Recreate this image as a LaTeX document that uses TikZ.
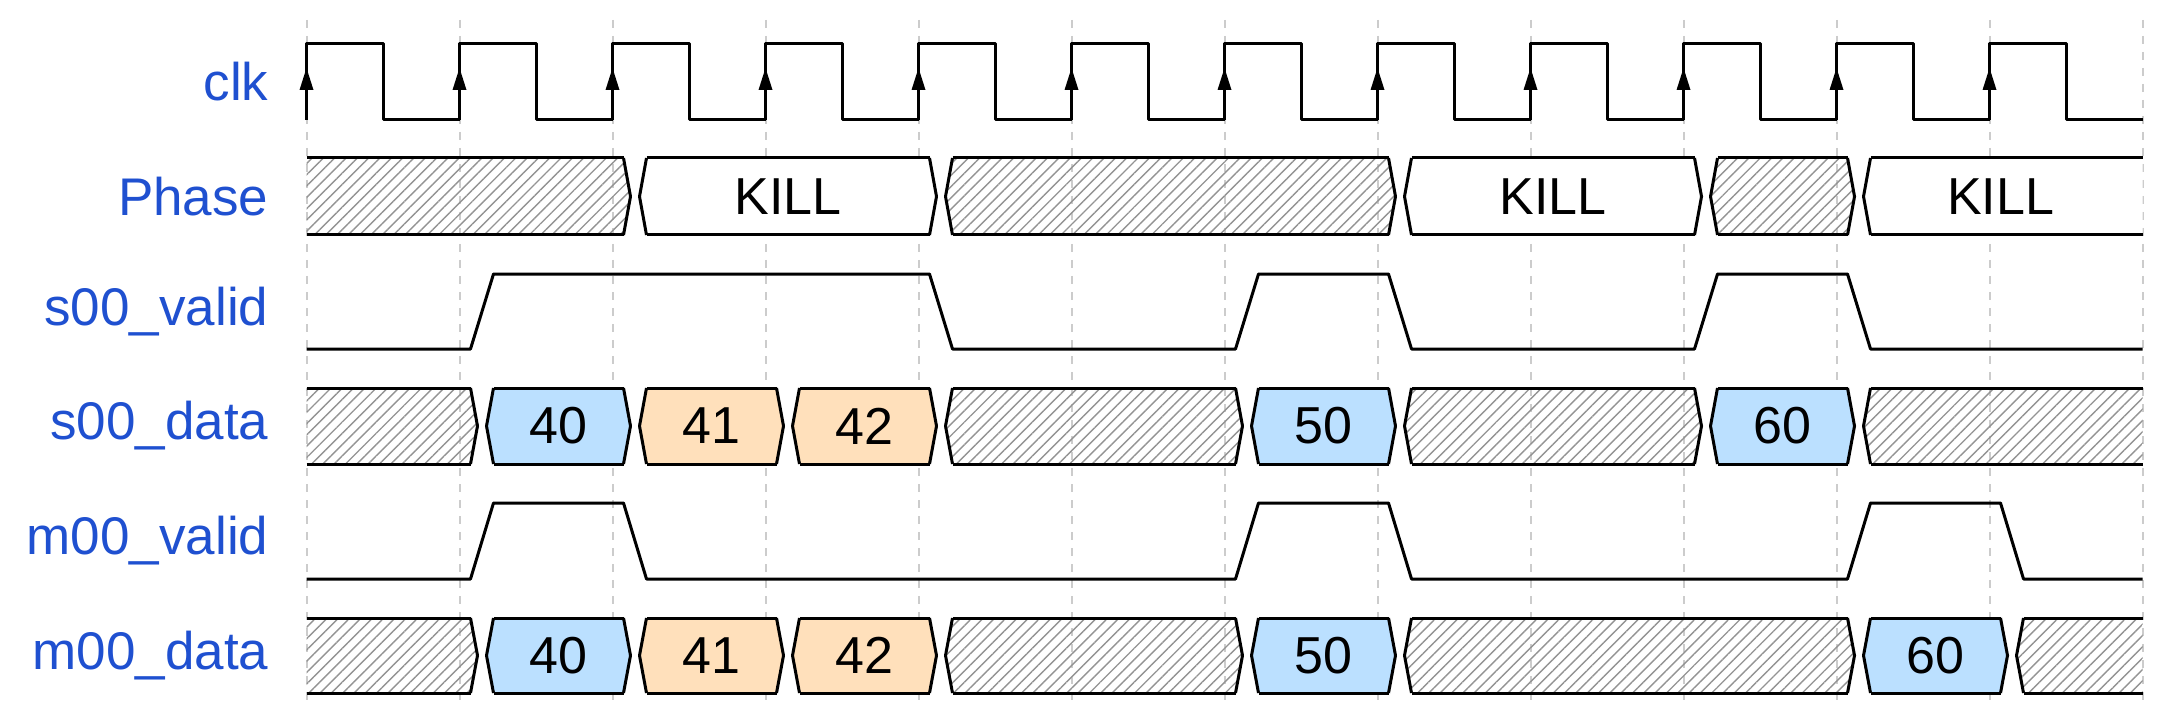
\documentclass[tikz,border=0pt]{standalone}
\usepackage{fontspec}
\setmainfont{Liberation Sans}
\usetikzlibrary{patterns.meta}
\definecolor{lblue}{HTML}{1F50D0}
\definecolor{dblue}{HTML}{BBE0FF}
\definecolor{dorange}{HTML}{FFE0BB}
\tikzset{
  sig/.style={line width=3pt, line join=round},
  grid/.style={dashed, dash pattern=on 8pt off 8pt, gray!40, line width=2pt},
  lbl/.style={anchor=east, text=lblue, font=\fontsize{53}{60}\selectfont, inner sep=0},
  dtxt/.style={font=\fontsize{52}{60}\selectfont, inner sep=0},
  hatch/.style={pattern={Lines[angle=45,distance=8pt,line width=1.4pt]}, pattern color=gray!85},
  blue/.style={fill=dblue},
  orng/.style={fill=dorange},
  kill/.style={fill=white}
}
\def\e#1{(306.5+#1*153)}
\newcommand\blk[7]{%
  \pgfmathsetmacro\xa{#1==0 ? 306.5 : 306.5+#1*153+22.5}%
  \pgfmathsetmacro\ta{#1==0 ? 0 : 4.5}%
  \pgfmathsetmacro\ca{#1==0 ? 0 : 11.5}%
  \pgfmathsetmacro\xb{#2==12 ? 2142.5 : 306.5+#2*153+22.5}%
  \pgfmathsetmacro\tb{#2==12 ? 0 : 4.5}%
  \pgfmathsetmacro\cb{#2==12 ? 0 : 11.5}%
  \pgfmathsetmacro\ym{(#3+#4)/2}%
  \path[#5] (\xa+\ta,\ym) -- (\xa+\ca,#3) -- (\xb-\cb,#3) -- (\xb-\tb,\ym) -- (\xb-\cb,#4) -- (\xa+\ca,#4) -- cycle;
  \draw[sig] (\xa+\ca,#3) -- (\xb-\cb,#3);
  \draw[sig] (\xa+\ca,#4) -- (\xb-\cb,#4);
  \ifnum#1>0 \draw[sig] (\xa+\ca,#3) -- (\xa+\ta,\ym) -- (\xa+\ca,#4);\fi
  \ifnum#2<12 \draw[sig] (\xb-\cb,#3) -- (\xb-\tb,\ym) -- (\xb-\cb,#4);\fi
  \node[dtxt] (#7) at ({(\xa+\xb)/2},\ym) {#6};
}
\begin{document}
\begin{tikzpicture}[x=1pt,y=-1pt]
\useasboundingbox (0,0) rectangle (2159,719);
% grid
\foreach \i in {0,...,12} \draw[grid] ({306.5+\i*153},20) -- ({306.5+\i*153},702);
% labels
\node[lbl] (lclk) at (268.6,82) {clk};
\node[lbl] (lph) at (268.6,196.5) {Phase};
\node[lbl] (lsv) at (268.6,311.5) {s00\_valid};
\node[lbl] (lsd) at (268.6,426) {s00\_data};
\node[lbl] (lmv) at (268.6,541) {m00\_valid};
\node[lbl] (lmd) at (268.6,655.5) {m00\_data};
% clock
\foreach \i in {0,...,11} {
  \draw[sig] ({306.5+\i*153},120) -- ({306.5+\i*153},43.6) -- ({306.5+\i*153+76.5},43.6) -- ({306.5+\i*153+76.5},120) -- ({306.5+\i*153+153},120);
  \fill ({306.5+\i*153},68) -- ({306.5+\i*153+7},90) -- ({306.5+\i*153-7},90) -- cycle;
}
% Phase
\blk{0}{2}{158}{235}{hatch}{}{p1}
\blk{2}{4}{158}{235}{kill}{KILL}{p2}
\blk{4}{7}{158}{235}{hatch}{}{p3}
\blk{7}{9}{158}{235}{kill}{KILL}{p4}
\blk{9}{10}{158}{235}{hatch}{}{p5}
\blk{10}{12}{158}{235}{kill}{KILL}{p6}
% s00_valid
\draw[sig] (306.5,349) -- ({\e{1}+11},349) -- ({\e{1}+34},274) -- ({\e{4}+11},274) -- ({\e{4}+34},349)
  -- ({\e{6}+11},349) -- ({\e{6}+34},274) -- ({\e{7}+11},274) -- ({\e{7}+34},349)
  -- ({\e{9}+11},349) -- ({\e{9}+34},274) -- ({\e{10}+11},274) -- ({\e{10}+34},349) -- (2142.5,349);
% s00_data
\blk{0}{1}{388}{464}{hatch}{}{s1}
\blk{1}{2}{388}{464}{blue}{40}{s2}
\blk{2}{3}{388}{464}{orng}{41}{s3}
\blk{3}{4}{388}{464}{orng}{42}{s4}
\blk{4}{6}{388}{464}{hatch}{}{s5}
\blk{6}{7}{388}{464}{blue}{50}{s6}
\blk{7}{9}{388}{464}{hatch}{}{s7}
\blk{9}{10}{388}{464}{blue}{60}{s8}
\blk{10}{12}{388}{464}{hatch}{}{s9}
% m00_valid
\draw[sig] (306.5,579) -- ({\e{1}+11},579) -- ({\e{1}+34},503) -- ({\e{2}+11},503) -- ({\e{2}+34},579)
  -- ({\e{6}+11},579) -- ({\e{6}+34},503) -- ({\e{7}+11},503) -- ({\e{7}+34},579)
  -- ({\e{10}+11},579) -- ({\e{10}+34},503) -- ({\e{11}+11},503) -- ({\e{11}+34},579) -- (2142.5,579);
% m00_data
\blk{0}{1}{618}{693}{hatch}{}{m1}
\blk{1}{2}{618}{693}{blue}{40}{m2}
\blk{2}{3}{618}{693}{orng}{41}{m3}
\blk{3}{4}{618}{693}{orng}{42}{m4}
\blk{4}{6}{618}{693}{hatch}{}{m5}
\blk{6}{7}{618}{693}{blue}{50}{m6}
\blk{7}{10}{618}{693}{hatch}{}{m7}
\blk{10}{11}{618}{693}{blue}{60}{m8}
\blk{11}{12}{618}{693}{hatch}{}{m9}
\end{tikzpicture}
\end{document}
